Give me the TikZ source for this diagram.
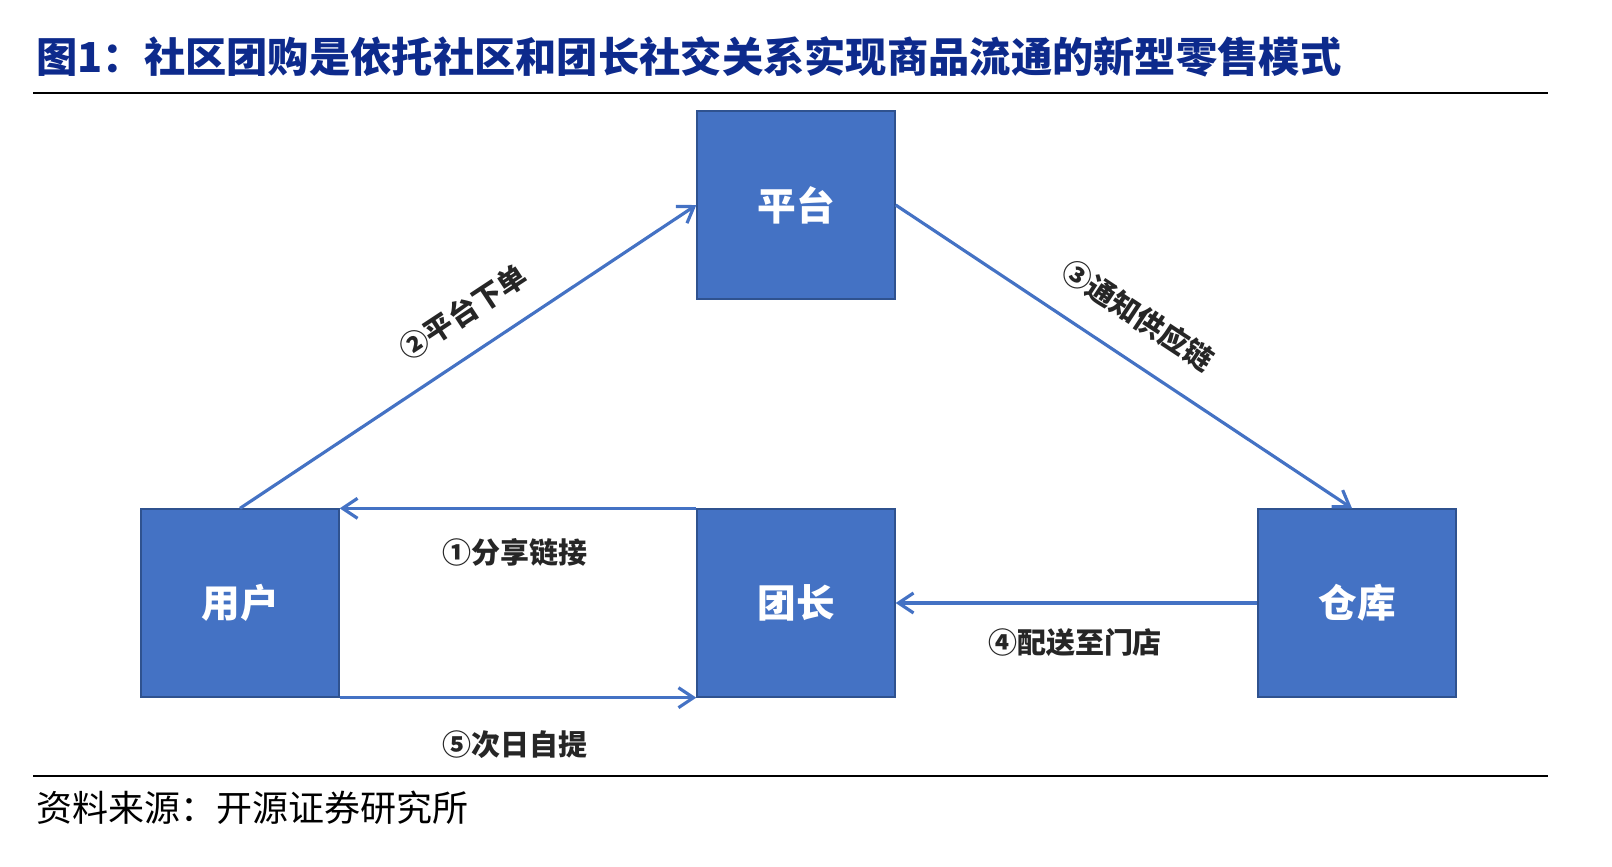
\documentclass[tikz,border=0pt]{standalone}
\usepackage{fontspec}
\setmainfont{Noto Sans CJK SC}
\usetikzlibrary{arrows.meta}
\definecolor{boxblue}{HTML}{4472C4}
\definecolor{boxedge}{HTML}{2F528F}
\definecolor{titleblue}{HTML}{0D2A8C}
\tikzset{
  x=0.02cm,y=-0.02cm,
  bx/.style={draw=boxedge,line width=0.8pt,fill=boxblue,minimum width=3.96cm,minimum height=3.76cm,text=white,font=\fontsize{22}{24}\selectfont\bfseries,inner sep=0pt},
  conn/.style={draw=boxblue,line width=1.8pt,-{Straight Barb[length=3mm,width=4mm]}},
  lab/.style={font=\fontsize{16.5}{18}\selectfont\bfseries,text=black!85,inner sep=0pt},
}
\begin{document}
\begin{tikzpicture}
\useasboundingbox (0,0) rectangle (1612,866);
\node[anchor=west,text=titleblue,font=\fontsize{23.5}{26}\selectfont\bfseries,inner sep=0pt] (title) at (36,57) {图1：社区团购是依托社区和团长社交关系实现商品流通的新型零售模式};
\draw[line width=0.8pt] (33,93) -- (1548,93);
\draw[line width=0.8pt] (33,776) -- (1548,776);
\node[anchor=west,font=\fontsize{20.5}{22}\selectfont,inner sep=0pt] (src) at (36,808) {资料来源：开源证券研究所};
\node[bx] (pt) at (796,205) {平台};
\node[bx] (yh) at (240,603) {用户};
\node[bx] (tz) at (796,603) {团长};
\node[bx] (ck) at (1357,603) {仓库};
\draw[conn] (yh.north) -- (pt.west);
\draw[conn] (pt.east) -- ([xshift=-0.1cm]ck.north);
\draw[conn] (ck.west) -- (tz.east);
\draw[conn] (tz.north west) -- (yh.north east);
\draw[conn] (yh.south east) -- (tz.south west);
\node[lab,rotate=33.4] (l2) at (463,312) {②平台下单};
\node[lab,rotate=-33.4] (l3) at (1138,315) {③通知供应链};
\node[lab] (l1) at (515,552) {①分享链接};
\node[lab] (l4) at (1075,642) {④配送至门店};
\node[lab] (l5) at (515,745) {⑤次日自提};
\end{tikzpicture}
\end{document}
